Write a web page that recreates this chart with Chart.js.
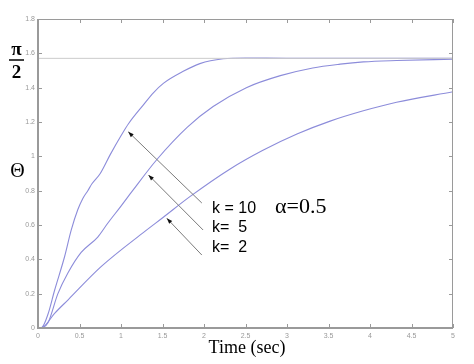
<!DOCTYPE html>
<html lang="en">
<head>
  <meta charset="UTF-8">
  <title>Theta vs time</title>
  <script src="https://cdn.jsdelivr.net/npm/chart.js"></script>
  <style>
    body { margin: 0; background: #fff; }
    #wrap { width: 474px; height: 364px; }
  </style>
</head>
<body>
  <div id="wrap"><canvas id="grafico"></canvas></div>

  <script>
    // curves (time in sec, theta)
    const k10_t = [0, 0.05, 0.12, 0.20, 0.32, 0.40, 0.48, 0.54, 0.60, 0.65, 0.75, 0.87, 1.0, 1.09, 1.27, 1.39, 1.51, 1.75, 1.95, 2.23, 2.5, 3.0, 4.0, 5.0];
    const k10_y = [0, 0.005, 0.08, 0.22, 0.415, 0.57, 0.69, 0.755, 0.80, 0.84, 0.90, 1.01, 1.12, 1.19, 1.30, 1.37, 1.425, 1.495, 1.54, 1.568, 1.573, 1.571, 1.571, 1.571];

    const k5_t = [0, 0.06, 0.12, 0.24, 0.36, 0.52, 0.72, 0.84, 1.0, 1.14, 1.43, 1.8, 2.11, 2.51, 2.92, 3.31, 3.64, 3.92, 4.32, 5.0];
    const k5_y = [0, 0.003, 0.03, 0.20, 0.32, 0.44, 0.53, 0.61, 0.71, 0.80, 0.98, 1.17, 1.29, 1.40, 1.47, 1.515, 1.537, 1.55, 1.558, 1.566];

    const k2_t = [0, 0.06, 0.20, 0.36, 0.76, 1.28, 1.51, 1.83, 2.31, 2.71, 3.12, 3.52, 3.92, 4.32, 5.0];
    const k2_y = [0, 0.005, 0.085, 0.163, 0.357, 0.56, 0.645, 0.765, 0.925, 1.035, 1.13, 1.205, 1.265, 1.315, 1.376];

    const halfPi = Math.PI / 2;

    // arrows from the labels to the curves: [tailX, tailY, tipX, tipY] in data units
    const arrows = [
      [1.974, 0.728, 1.087, 1.143],
      [1.989, 0.571, 1.331, 0.891],
      [1.974, 0.425, 1.552, 0.639]
    ];
    const kLabels = ['k = 10', 'k=  5', 'k=  2'];

    const toPts = (xs, ys) => xs.map((x, i) => ({ x: x, y: ys[i] }));
    const curveColor = 'rgb(140,140,218)';
    const fmt = v => String(+v.toFixed(2));

    const extras = {
      id: 'extras',
      afterDraw(chart) {
        const ctx = chart.ctx;
        const a = chart.chartArea;
        const xs = chart.scales.x, ys = chart.scales.y;
        ctx.save();

        // frame
        ctx.strokeStyle = '#9a9a9a';
        ctx.lineWidth = 1;
        ctx.strokeRect(a.left + 0.5, a.top + 0.5, a.right - a.left - 1, a.bottom - a.top);
        ctx.lineWidth = 2;
        ctx.beginPath();
        ctx.moveTo(a.left, a.top);
        ctx.lineTo(a.left, a.bottom);
        ctx.lineTo(a.right, a.bottom);
        ctx.stroke();

        // inward ticks
        ctx.lineWidth = 1;
        ctx.beginPath();
        xs.ticks.forEach(t => {
          const p = Math.round(xs.getPixelForValue(t.value)) + 0.5;
          ctx.moveTo(p, a.bottom); ctx.lineTo(p, a.bottom - 4);
          ctx.moveTo(p, a.top); ctx.lineTo(p, a.top + 4);
        });
        ys.ticks.forEach(t => {
          const p = Math.round(ys.getPixelForValue(t.value)) + 0.5;
          ctx.moveTo(a.left, p); ctx.lineTo(a.left + 4, p);
          ctx.moveTo(a.right, p); ctx.lineTo(a.right - 4, p);
        });
        ctx.stroke();

        // arrows
        arrows.forEach(ar => {
          const x0 = xs.getPixelForValue(ar[0]), y0 = ys.getPixelForValue(ar[1]);
          const x1 = xs.getPixelForValue(ar[2]), y1 = ys.getPixelForValue(ar[3]);
          ctx.strokeStyle = '#7a7a7a';
          ctx.lineWidth = 1;
          ctx.beginPath();
          ctx.moveTo(x0, y0); ctx.lineTo(x1, y1);
          ctx.stroke();
          const ang = Math.atan2(y1 - y0, x1 - x0);
          ctx.fillStyle = '#111';
          ctx.beginPath();
          ctx.moveTo(x1, y1);
          ctx.lineTo(x1 - 6 * Math.cos(ang - 0.35), y1 - 6 * Math.sin(ang - 0.35));
          ctx.lineTo(x1 - 6 * Math.cos(ang + 0.35), y1 - 6 * Math.sin(ang + 0.35));
          ctx.closePath();
          ctx.fill();
        });

        // k labels
        ctx.fillStyle = '#000';
        ctx.textAlign = 'left';
        ctx.textBaseline = 'alphabetic';
        ctx.font = '16px "Liberation Sans", Arial, sans-serif';
        kLabels.forEach((s, i) => ctx.fillText(s, 212, 213 + i * 19.3));
        ctx.font = '22px "Liberation Serif", "Times New Roman", serif';
        ctx.fillText('\u03b1=0.5', 275, 213);

        // axis titles
        ctx.textAlign = 'center';
        ctx.font = '18px "Liberation Serif", "Times New Roman", serif';
        ctx.fillText('Time (sec)', 247, 353);
        ctx.font = '20px "Liberation Serif", "Times New Roman", serif';
        ctx.textBaseline = 'middle';
        ctx.fillText('\u0398', 17.5, 172);

        // pi/2 label
        ctx.font = 'bold 19px "Liberation Serif", "Times New Roman", serif';
        ctx.textBaseline = 'alphabetic';
        ctx.fillText('\u03c0', 16.5, 55);
        ctx.fillText('2', 16.5, 78);
        ctx.strokeStyle = '#000';
        ctx.lineWidth = 1.5;
        ctx.beginPath();
        ctx.moveTo(9, 60); ctx.lineTo(24, 60);
        ctx.stroke();

        ctx.restore();
      }
    };

    new Chart(document.getElementById('grafico'), {
      type: 'line',
      data: {
        datasets: [
          { label: 'pi/2', data: [{ x: 0, y: halfPi }, { x: 5, y: halfPi }], borderColor: '#cccccc', borderWidth: 1, pointRadius: 0 },
          { label: 'k = 10', data: toPts(k10_t, k10_y), borderColor: curveColor, borderWidth: 1.1, pointRadius: 0, cubicInterpolationMode: 'monotone' },
          { label: 'k = 5', data: toPts(k5_t, k5_y), borderColor: curveColor, borderWidth: 1.1, pointRadius: 0, cubicInterpolationMode: 'monotone' },
          { label: 'k = 2', data: toPts(k2_t, k2_y), borderColor: curveColor, borderWidth: 1.1, pointRadius: 0, cubicInterpolationMode: 'monotone' }
        ]
      },
      options: {
        responsive: true,
        maintainAspectRatio: false,
        animation: false,
        layout: { padding: { left: 0, top: 19, right: 21, bottom: 0 } },
        plugins: { legend: { display: false }, tooltip: { enabled: false } },
        scales: {
          x: {
            type: 'linear', min: 0, max: 5,
            grid: { display: false, drawTicks: false },
            border: { display: false },
            ticks: { stepSize: 0.5, color: '#999', font: { size: 7 }, padding: 4, maxRotation: 0, callback: fmt },
            afterFit(s) { s.height = 36; }
          },
          y: {
            min: 0, max: 1.8,
            grid: { display: false, drawTicks: false },
            border: { display: false },
            ticks: { stepSize: 0.2, color: '#999', font: { size: 7 }, padding: 3, callback: fmt },
            afterFit(s) { s.width = 38; }
          }
        }
      },
      plugins: [extras]
    });
  </script>
</body>
</html>
